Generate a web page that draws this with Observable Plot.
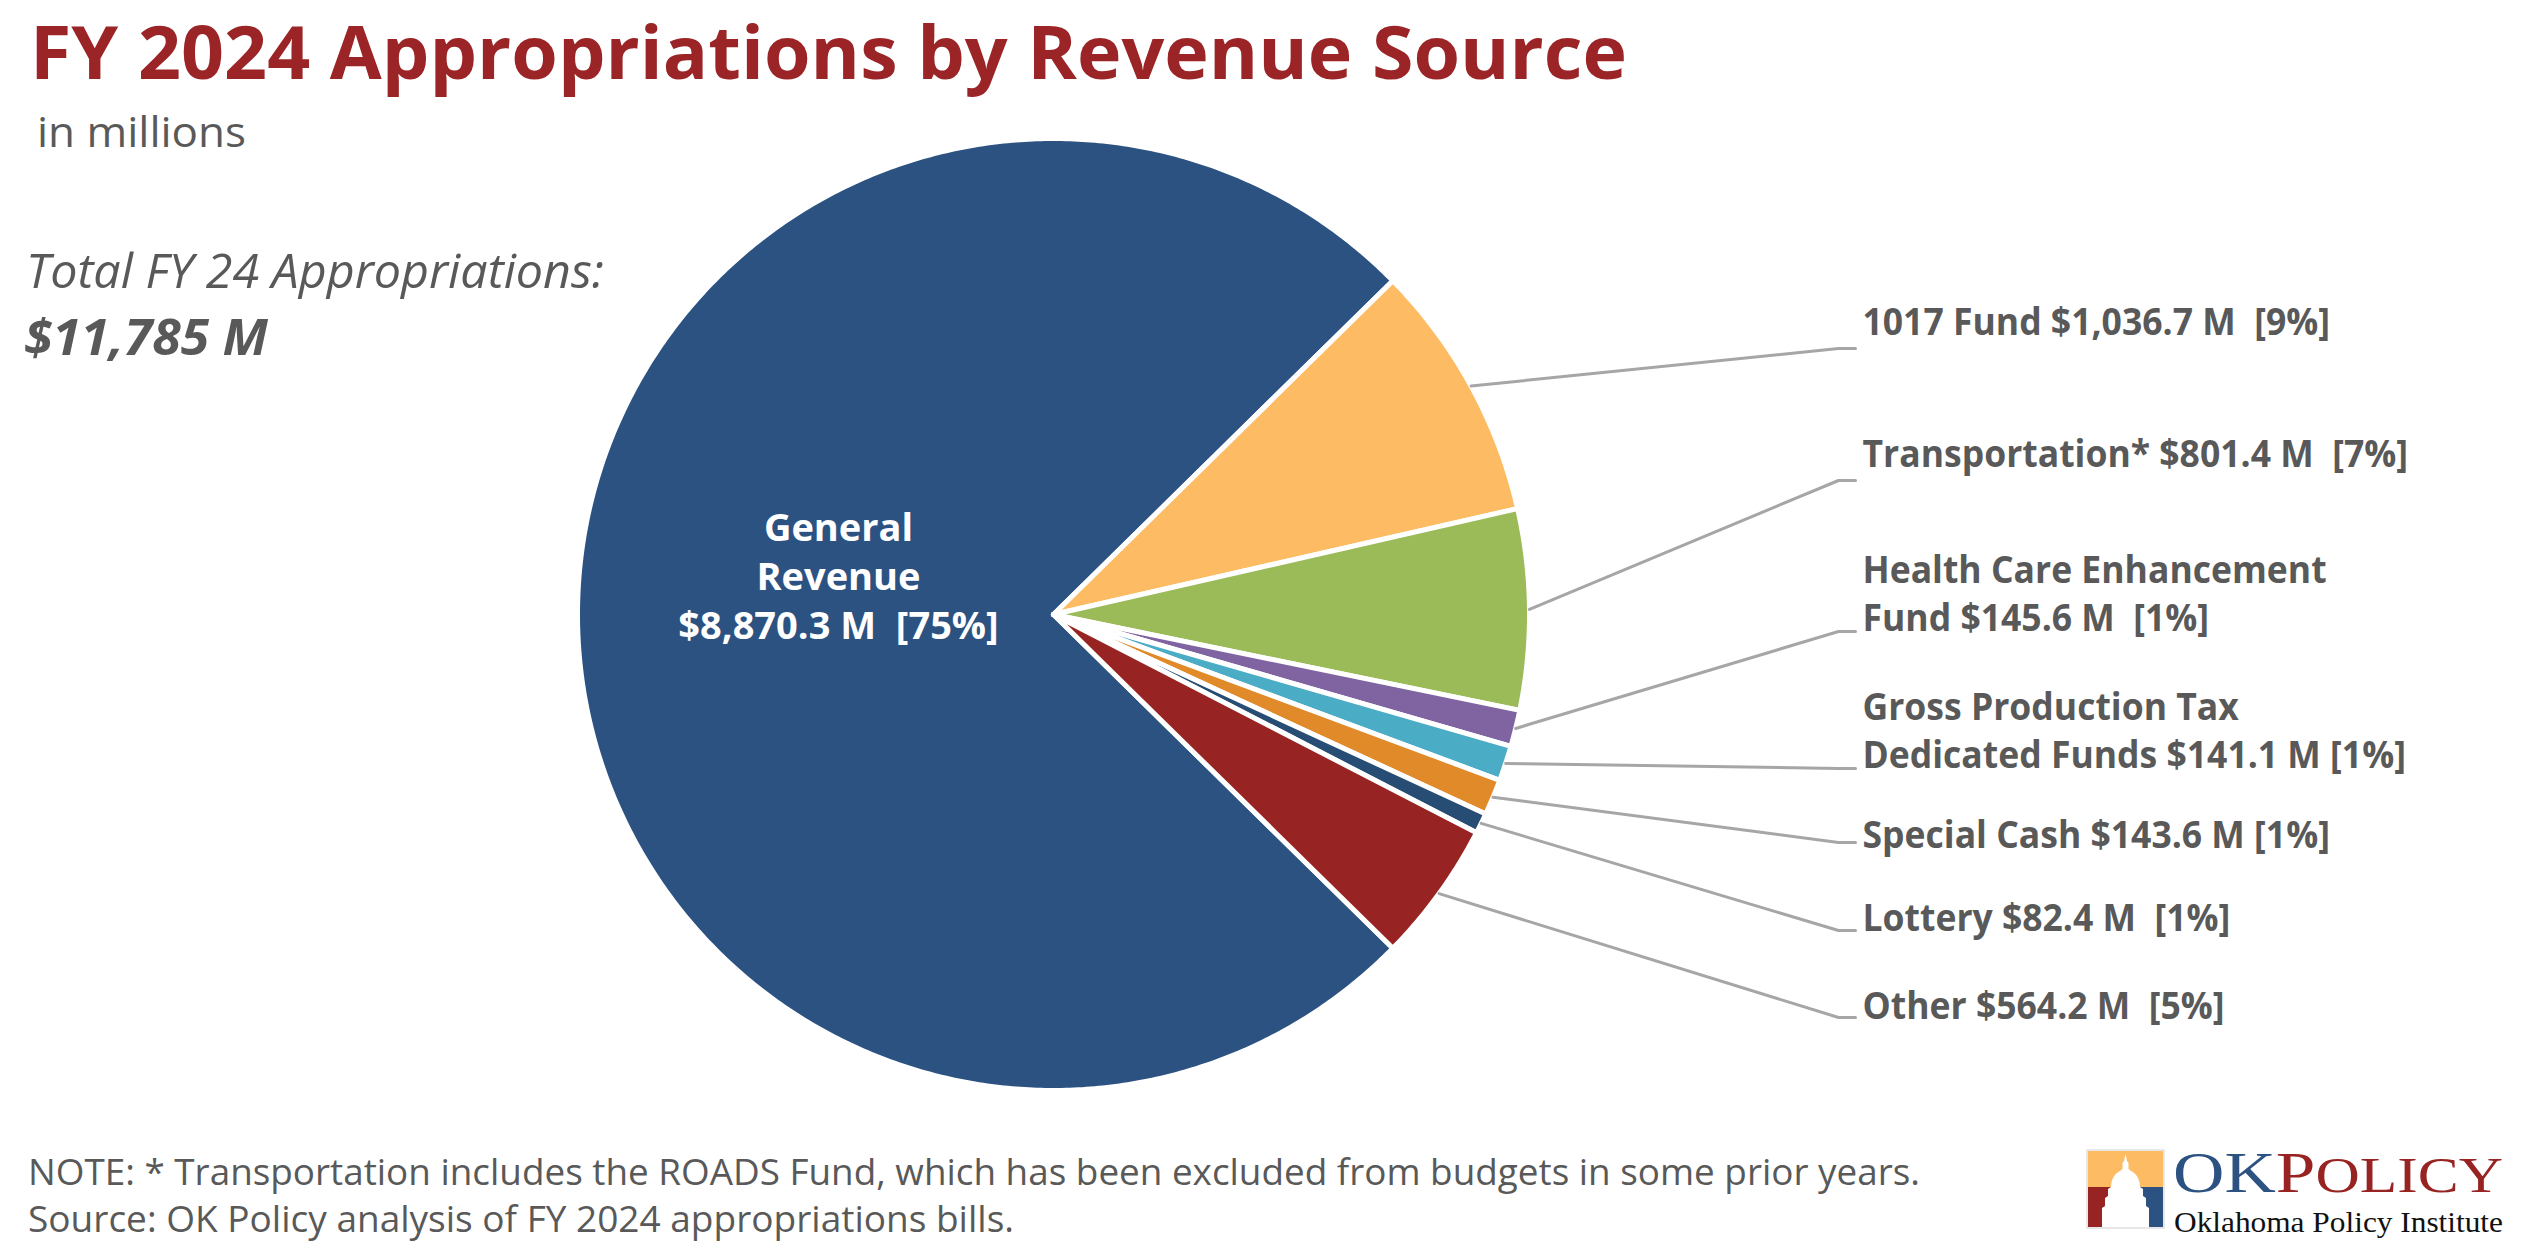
<!DOCTYPE html>
<html>
<head>
<meta charset="utf-8">
<script src="https://cdn.jsdelivr.net/npm/d3@7"></script>
<script src="https://cdn.jsdelivr.net/npm/@observablehq/plot@0.6"></script>
<style>
  html, body { margin: 0; padding: 0; background: #ffffff; overflow: hidden; }
  #page { position: relative; width: 2521px; height: 1250px; background: #ffffff; font-family: "Open Sans", sans-serif; }
  #chart { position: absolute; left: 0; top: 120px; width: 2521px; height: 1000px; }
  #chart svg { max-width: none; }
  .overlay { position: absolute; left: 0; pointer-events: none; }
</style>
</head>
<body>
<div id="page">
  <div id="chart"></div>
  <svg id="header" class="overlay" style="top:0" width="2521" height="380" xmlns="http://www.w3.org/2000/svg"></svg>
  <svg id="footer" class="overlay" style="top:1120px" width="2521" height="130" xmlns="http://www.w3.org/2000/svg"></svg>
</div>
<script>
// ---------------- DATA ----------------
const categories = ["General Revenue", "1017 Fund", "Transportation*", "Health Care Enhancement Fund",
  "Gross Production Tax Dedicated Funds", "Special Cash", "Lottery", "Other"];
const amounts = [8870.3, 1036.7, 801.4, 145.6, 141.1, 143.6, 82.4, 564.2];   // $ millions
const shares = [75, 9, 7, 1, 1, 1, 1, 5];                                      // percent
const colors = ["#2c5282", "#fdbb63", "#9bbb59", "#8064a2", "#4bacc6", "#e08a2a", "#284d74", "#982323"];
const labelNames = ["General\nRevenue\n", "1017 Fund ", "Transportation* ", "Health Care Enhancement\nFund ",
  "Gross Production Tax\nDedicated Funds ", "Special Cash ", "Lottery ", "Other "];
const labelGaps = ["\u00a0 ", "\u00a0 ", "\u00a0 ", "\u00a0 ", " ", " ", "\u00a0 ", "\u00a0 "];
const totalAppropriations = 11785;

const titleText = "FY 2024 Appropriations by Revenue Source";
const subtitleText = "in millions";
const totalLabel = "Total FY 24 Appropriations:";
const noteText = "NOTE: * Transportation includes the ROADS Fund, which has been excluded from budgets in some prior years.";
const sourceText = "Source: OK Policy analysis of FY 2024 appropriations bills.";

// ---------------- LAYOUT ----------------
const W = 2521, H = 1000, TOP = 120;
const CX = 1053, CY = 614 - TOP, R = 476;
const labelX = 1862, elbowX = 1838, tailX = 1855;
const elbowY = [null, 348, 480, 631, 768, 842, 930, 1017];
const labelBaseY = [null, 334, 466, 630, 767, 847, 930, 1018];
const grLabel = {x: 838, y: 638};

const fmt = d3.format(",.1f");
const data = categories.map((c, i) => ({
  name: c, amount: amounts[i], share: shares[i], color: colors[i],
  label: `${labelNames[i]}$${fmt(amounts[i])} M${labelGaps[i]}[${shares[i]}%]`
}));

const sum = d3.sum(amounts);
const start = 1.5 * Math.PI - (amounts[0] / sum) * Math.PI; // General Revenue centred pointing left
const arcs = d3.pie().sort(null).value(d => d.amount).startAngle(start).endAngle(start + 2 * Math.PI)(data);

const pt = (a, r) => ({x: CX + r * Math.sin(a), y: CY - r * Math.cos(a)});
const sliceMarks = arcs.map(a => {
  const pts = [{x: CX, y: CY}];
  const n = Math.max(4, Math.ceil((a.endAngle - a.startAngle) / (Math.PI / 360)));
  for (let i = 0; i <= n; i++) pts.push(pt(a.startAngle + (a.endAngle - a.startAngle) * i / n, R));
  pts.push({x: CX, y: CY});
  return Plot.line(pts, {x: "x", y: "y", fill: a.data.color, stroke: "white", strokeWidth: 5});
});

const leaderPts = [];
const labelData = [];
arcs.forEach((a, i) => {
  if (i === 0) return;
  const mid = (a.startAngle + a.endAngle) / 2;
  const p0 = pt(mid, R);
  leaderPts.push({key: i, ...p0});
  leaderPts.push({key: i, x: elbowX, y: elbowY[i] - TOP});
  leaderPts.push({key: i, x: tailX, y: elbowY[i] - TOP});
  labelData.push({x: labelX, y: labelBaseY[i] - TOP, text: a.data.label});
});

const chart = Plot.plot({
  width: W, height: H, margin: 0,
  style: {fontFamily: "'Open Sans', sans-serif", background: "transparent"},
  x: {domain: [0, W], range: [0, W], axis: null},
  y: {domain: [0, H], range: [0, H], axis: null},
  marks: [
    ...sliceMarks,
    Plot.line(leaderPts, {x: "x", y: "y", z: "key", stroke: "#a6a6a6", strokeWidth: 3}),
    Plot.text(labelData, {x: "x", y: "y", text: "text", textAnchor: "start", lineAnchor: "bottom",
      fontSize: 37, fontWeight: 700, fill: "#595959", lineHeight: 48 / 37, className: "side-label"}),
    Plot.text([{x: grLabel.x, y: grLabel.y - TOP, text: data[0].label}], {x: "x", y: "y", text: "text",
      textAnchor: "middle", lineAnchor: "bottom", fontSize: 38, fontWeight: 700, fill: "#ffffff", lineHeight: 49 / 38})
  ]
});
document.getElementById("chart").appendChild(chart);

// Myriad-like narrowing of the side labels (Open Sans is a little wider)
chart.querySelectorAll(".side-label tspan, .side-label text").forEach(el => {
  if (el.tagName === "text" && el.querySelector("tspan")) return;
  const len = el.getComputedTextLength();
  if (len > 0) { el.setAttribute("textLength", (len * 0.96).toFixed(1)); el.setAttribute("lengthAdjust", "spacingAndGlyphs"); }
});

// ---------------- HEADER / FOOTER TEXT ----------------
const NS = "http://www.w3.org/2000/svg";
function addText(svg, attrs, content) {
  const t = document.createElementNS(NS, "text");
  for (const k in attrs) t.setAttribute(k, attrs[k]);
  if (content != null) t.textContent = content;
  svg.appendChild(t);
  return t;
}
const header = document.getElementById("header");
addText(header, {x: 30, y: 79, "font-family": "Open Sans", "font-weight": 700, "font-size": 74, fill: "#9b2427",
  textLength: 1597, lengthAdjust: "spacingAndGlyphs"}, titleText);
addText(header, {x: 37, y: 147, "font-family": "Open Sans", "font-size": 42, fill: "#595959",
  textLength: 209, lengthAdjust: "spacingAndGlyphs"}, subtitleText);
addText(header, {x: 26, y: 288, "font-family": "Open Sans", "font-style": "italic", "font-size": 48, fill: "#595959",
  textLength: 578, lengthAdjust: "spacingAndGlyphs"}, totalLabel);
addText(header, {x: 24, y: 355, "font-family": "Open Sans", "font-style": "italic", "font-weight": 700, "font-size": 50, fill: "#595959",
  textLength: 244, lengthAdjust: "spacingAndGlyphs"}, `$${d3.format(",")(totalAppropriations)} M`);

const footer = document.getElementById("footer");
addText(footer, {x: 28, y: 65, "font-family": "Open Sans", "font-size": 36, fill: "#595959",
  textLength: 1892, lengthAdjust: "spacingAndGlyphs"}, noteText);
addText(footer, {x: 28, y: 112, "font-family": "Open Sans", "font-size": 36, fill: "#595959",
  textLength: 986, lengthAdjust: "spacingAndGlyphs"}, sourceText);

// Logo
const logo = document.createElementNS(NS, "g");
logo.setAttribute("transform", "translate(2087,30)");
logo.innerHTML = `
  <rect x="0" y="0" width="77" height="78" fill="#ffffff" stroke="#d0d0d0" stroke-width="1"/>
  <rect x="1" y="1" width="75" height="37" fill="#fdbb63"/>
  <rect x="1" y="37" width="38" height="40" fill="#982323"/>
  <rect x="38" y="37" width="38" height="40" fill="#2c5282"/>
  <path fill="#ffffff" d="M38.5,4 L40,11 L41.5,13 L41.5,19 L44,21 C50,24 53,30 53,37 L56,39 L56,46 L59,48 L59,56 L62,58 L62,77 L15,77 L15,58 L18,56 L18,48 L21,46 L21,39 L24,37 C24,30 27,24 33,21 L35.5,19 L35.5,13 L37,11 Z"/>
`;
footer.appendChild(logo);
const okText = addText(footer, {x: 2173, y: 72, "font-family": "Liberation Serif, serif", "font-size": 58,
  textLength: 330, lengthAdjust: "spacingAndGlyphs"});
okText.innerHTML = `<tspan fill="#2c5282">OK</tspan><tspan fill="#982323">P</tspan><tspan fill="#982323" font-size="50">OLICY</tspan>`;
addText(footer, {x: 2174, y: 112, "font-family": "Liberation Serif, serif", "font-size": 30, fill: "#111111",
  textLength: 329, lengthAdjust: "spacingAndGlyphs"}, "Oklahoma Policy Institute");
</script>
</body>
</html>
